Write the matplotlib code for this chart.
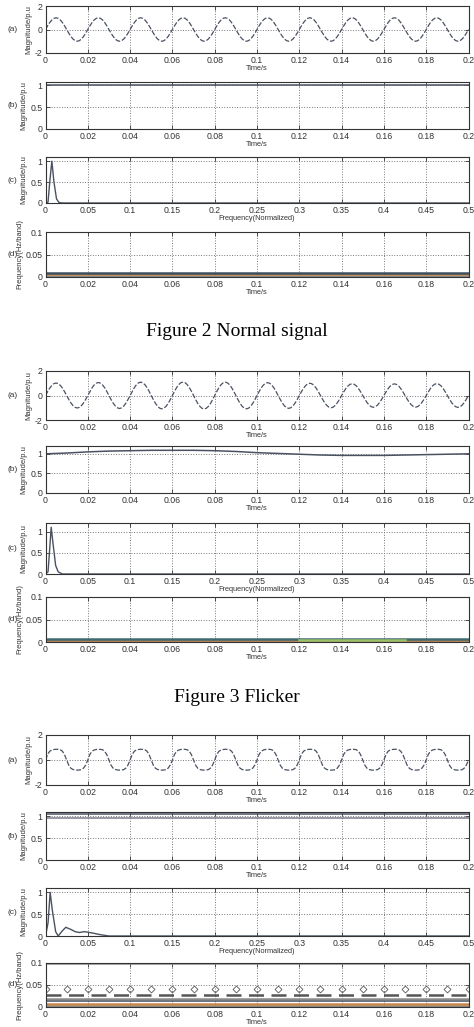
"""
Three stacked figure blocks: normal signal, flicker, harmonic signal.
Each block: (a) waveform, (b) magnitude, (c) spectrum, (d) frequency bands.
"""
import numpy as np
import matplotlib.pyplot as plt

plt.rcParams['font.family'] = ['Liberation Sans', 'DejaVu Sans']
plt.rcParams['axes.linewidth'] = 0.8

# -------------------------------------------
# Data
# -------------------------------------------
n_cycles = 10
cycle_time = 0.02

# one 50 Hz cycle, 20 samples
sine_cycle = [0.00, 0.31, 0.59, 0.81, 0.95, 1.00, 0.95, 0.81, 0.59, 0.31,
              0.00, -0.31, -0.59, -0.81, -0.95, -1.00, -0.95, -0.81, -0.59, -0.31]
harmonic_cycle = [0.00, 0.45, 0.70, 0.80, 0.84, 0.86, 0.85, 0.82, 0.70, 0.42,
                  0.00, -0.42, -0.66, -0.76, -0.80, -0.81, -0.80, -0.77, -0.65, -0.40]
flicker_env = [1.02, 1.06, 1.09, 1.10, 1.09, 1.05, 1.00, 0.96, 0.95, 0.97]

# (b) magnitude traces
mag_t = [0.0, 0.01, 0.02, 0.03, 0.04, 0.05, 0.06, 0.07, 0.08, 0.09, 0.10,
         0.11, 0.12, 0.13, 0.14, 0.15, 0.16, 0.17, 0.18, 0.19, 0.20]
mag_normal = [1.0] * 21
mag_flicker = [1.00, 1.02, 1.05, 1.07, 1.08, 1.09, 1.09, 1.09, 1.08, 1.06, 1.03,
               1.01, 0.99, 0.97, 0.96, 0.96, 0.96, 0.97, 0.98, 0.99, 1.00]
mag_harm_1 = [1.06] * 21
mag_harm_2 = [0.96] * 21

# (c) spectra
f_normal = [0, 0.003, 0.005, 0.0075, 0.010, 0.013, 0.016, 0.02, 0.5]
s_normal = [0, 0.02, 0.50, 1.00, 0.50, 0.10, 0.01, 0, 0]
f_flicker = [0, 0.003, 0.005, 0.0067, 0.009, 0.012, 0.015, 0.02, 0.5]
s_flicker = [0, 0.05, 0.60, 1.10, 0.70, 0.20, 0.05, 0, 0]
f_harm = [0, 0.003, 0.0055, 0.008, 0.012, 0.015, 0.02, 0.024, 0.03, 0.035,
          0.04, 0.046, 0.055, 0.065, 0.075, 0.5]
s_harm = [0, 0.30, 1.00, 0.60, 0.10, 0.00, 0.12, 0.20, 0.15, 0.10,
          0.08, 0.10, 0.07, 0.03, 0, 0]

# (d) band levels
band_t = [0.0, 0.2]
bands_normal = [0.003, 0.006, 0.009]
bands_flicker = [0.002, 0.004, 0.0075]
bands_harm = [0.003, 0.007, 0.016, 0.019, 0.027]
diamond_t = [0.00, 0.01, 0.02, 0.03, 0.04, 0.05, 0.06, 0.07, 0.08, 0.09, 0.10,
             0.11, 0.12, 0.13, 0.14, 0.15, 0.16, 0.17, 0.18, 0.19, 0.20]
diamond_level = 0.04
flicker_green_t = [0.12, 0.17]
flicker_green_v = [0.0045, 0.0045]

captions = ['Figure 2 Normal signal', 'Figure 3 Flicker']

# -------------------------------------------
# Layout helpers
# -------------------------------------------
W, H = 474, 1027
fig = plt.figure(figsize=(W / 100, H / 100), dpi=100)

LINE = '#4a5262'
GRID = dict(color='#777777', linestyle=':', linewidth=0.7)


def make_ax(top, bottom, left=45.5, right=468.5):
    ax = fig.add_axes([left / W, 1 - bottom / H, (right - left) / W,
                       (bottom - top) / H])
    ax.tick_params(direction='in', length=3, width=0.6, labelsize=6.3,
                   colors='#333333', pad=2, top=True, right=True)
    for sp in ax.spines.values():
        sp.set_color('#333333')
    ax.grid(True, **GRID)
    return ax


def time_axis(ax, xlabel='Time/s'):
    ax.set_xlim(0, 0.2)
    ax.set_xticks([0, 0.02, 0.04, 0.06, 0.08, 0.1, 0.12, 0.14, 0.16, 0.18, 0.2])
    ax.set_xticklabels(['0', '0.02', '0.04', '0.06', '0.08', '0.1', '0.12',
                        '0.14', '0.16', '0.18', '0.2'])
    ax.set_xlabel(xlabel, fontsize=5.3, labelpad=0, color='#333333')


def freq_axis(ax):
    ax.set_xlim(0, 0.5)
    ax.set_xticks([0, 0.05, 0.1, 0.15, 0.2, 0.25, 0.3, 0.35, 0.4, 0.45, 0.5])
    ax.set_xticklabels(['0', '0.05', '0.1', '0.15', '0.2', '0.25', '0.3',
                        '0.35', '0.4', '0.45', '0.5'])
    ax.set_xlabel('Frequency(Normalized)', fontsize=5.3, labelpad=0,
                  color='#333333')


def ylab(ax, text, tag):
    ax.set_ylabel(text, fontsize=5.5, labelpad=2, color='#333333')
    ax.text(-0.078, 0.5, tag, transform=ax.transAxes, fontsize=6,
            ha='center', va='center', color='#333333')


def waveform(cycle, env):
    wave = np.tile(cycle, n_cycles) * np.repeat(env, len(cycle))
    wave = np.append(wave, cycle[0] * env[-1])
    tt = np.linspace(0, n_cycles * cycle_time, len(wave))
    return tt, wave


# pixel rows (top, bottom) of each panel
rows = [
    [(6, 53), (82, 129), (157, 203), (232, 277)],
    [(371, 420), (446, 493), (523, 574), (597, 642)],
    [(735, 785), (812, 860), (888, 936), (963, 1007)],
]

waves = [(sine_cycle, [1.0] * n_cycles), (sine_cycle, flicker_env),
         (harmonic_cycle, [1.0] * n_cycles)]
mags = [[mag_normal], [mag_flicker], [mag_harm_1, mag_harm_2]]
mag_top = [1.08, 1.2, 1.1]
spectra = [(f_normal, s_normal), (f_flicker, s_flicker), (f_harm, s_harm)]
spec_top = [1.1, 1.2, 1.1]
bands = [bands_normal, bands_flicker, bands_harm]
band_colors = [['#8a8a8a', '#c8864a', '#3d5060'],
               ['#8a8a8a', '#c8864a', '#3e6a70'],
               ['#8a8a8a', '#c8864a', '#3d4660', '#8a8a8a', '#555555']]

for g in range(3):
    ra, rb, rc, rd = rows[g]

    # (a) waveform
    ax = make_ax(*ra)
    tt, ww = waveform(*waves[g])
    ax.plot(tt, ww, color=LINE, lw=0.9, ls=(0, (4, 1.5)))
    ax.set_ylim(-2, 2)
    ax.set_yticks([-2, 0, 2])
    ax.set_yticklabels(['-2', '0', '2'])
    time_axis(ax)
    ylab(ax, 'Magnitude/p.u', '(a)')

    # (b) magnitude
    ax = make_ax(*rb)
    for k, m in enumerate(mags[g]):
        ax.plot(mag_t, m, color=LINE if k == 0 else '#7a7a8a', lw=1.1)
    ax.set_ylim(0, mag_top[g])
    ax.set_yticks([0, 0.5, 1])
    ax.set_yticklabels(['0', '0.5', '1'])
    time_axis(ax)
    ylab(ax, 'Magnitude/p.u', '(b)')

    # (c) spectrum
    ax = make_ax(*rc)
    fx, sy = spectra[g]
    ax.plot(fx, sy, color=LINE, lw=1.0)
    ax.set_ylim(0, spec_top[g])
    ax.set_yticks([0, 0.5, 1])
    ax.set_yticklabels(['0', '0.5', '1'])
    freq_axis(ax)
    ylab(ax, 'Magnitude/p.u', '(c)')

    # (d) frequency bands
    ax = make_ax(*rd)
    for lvl, col in zip(bands[g], band_colors[g]):
        ls = (0, (6, 3)) if (g == 2 and lvl == bands_harm[-1]) else '-'
        ax.plot(band_t, [lvl, lvl], color=col, lw=1.8, ls=ls)
    if g == 1:
        ax.plot(flicker_green_t, flicker_green_v, color='#9bc06a', lw=1.8)
    if g == 2:
        ax.plot(diamond_t, [diamond_level] * len(diamond_t), ls='none',
                marker='D', ms=3.5, mfc='none', mec='#555555', mew=0.6)
        ax.plot(band_t, [0.1, 0.1], color='#8a8a8a', lw=1.8)
    ax.set_ylim(0, 0.1)
    ax.set_yticks([0, 0.05, 0.1])
    ax.set_yticklabels(['0', '0.05', '0.1'])
    time_axis(ax)
    ylab(ax, 'Frequency(Hz/band)', '(d)')

# captions
fig.text(0.5, 1 - 331 / H, captions[0], fontsize=14, ha='center',
         va='center', family='Liberation Serif')
fig.text(0.5, 1 - 698 / H, captions[1], fontsize=14, ha='center',
         va='center', family='Liberation Serif')

fig.savefig('out.png', dpi=100)
